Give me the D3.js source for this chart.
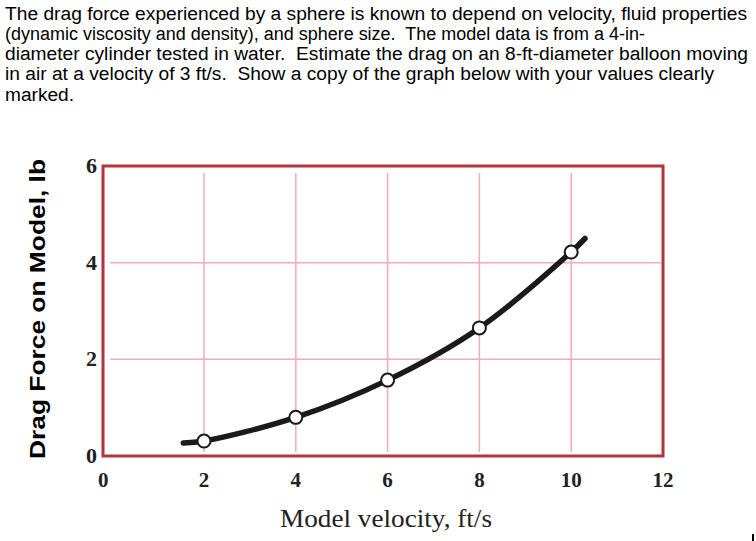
<!DOCTYPE html>
<html lang="en">
<head>
<meta charset="utf-8">
<title>Drag force on model</title>
<script src="https://cdn.jsdelivr.net/npm/d3@7"></script>
<style>
  body { margin: 0; background: #fff; }
  .prompt { white-space: pre; }
</style>
</head>
<body>
<svg width="756" height="541"></svg>
<script>
// problem statement lines, with the width each one fills in the picture
var promptLines = [
  "The drag force experienced by a sphere is known to depend on velocity, fluid properties",
  "(dynamic viscosity and density), and sphere size.  The model data is from a 4-in-",
  "diameter cylinder tested in water.  Estimate the drag on an 8-ft-diameter balloon moving",
  "in air at a velocity of 3 ft/s.  Show a copy of the graph below with your values clearly",
  "marked."
];
var promptWidths = [742, 640, 743, 709, 69];

// measured points (velocity ft/s, drag lb)
var velocity = [2, 4, 6, 8, 10];
var drag = [0.31, 0.8, 1.57, 2.65, 4.22];

// hand-drawn fit curve through the points
var curveX = [1.55, 2, 4, 6, 8, 10, 10.3];
var curveY = [0.27, 0.31, 0.8, 1.57, 2.65, 4.22, 4.5];

var xTicks = [0, 2, 4, 6, 8, 10, 12];
var yTicks = [0, 2, 4, 6];
var xGrid = [2, 4, 6, 8, 10];
var yGrid = [2, 4];

var svg = d3.select("svg");

svg.append("g").selectAll("text")
  .data(promptLines)
  .enter().append("text")
  .attr("class", "prompt")
  .attr("x", 5)
  .attr("y", function(d, i) { return 19.5 + i * 20.3; })
  .attr("font-family", "Liberation Sans, Arial, sans-serif")
  .attr("font-size", "18px")
  .attr("fill", "#000")
  .attr("textLength", function(d, i) { return promptWidths[i]; })
  .attr("lengthAdjust", "spacingAndGlyphs")
  .text(function(d) { return d; });

var x = d3.scaleLinear().domain([-0.2, 12]).range([103, 663]),
    y = d3.scaleLinear().domain([0, 6]).range([456, 166]);

var pink = "#f8aab3", frameRed = "#b3343b";

// grid
svg.append("g").selectAll("line")
  .data(xGrid)
  .enter().append("line")
  .attr("x1", function(d) { return x(d); })
  .attr("x2", function(d) { return x(d); })
  .attr("y1", y(6) + 7)
  .attr("y2", y(0) - 4)
  .attr("stroke", pink)
  .attr("stroke-width", 1.5);

svg.append("g").selectAll("line")
  .data(yGrid)
  .enter().append("line")
  .attr("x1", x(0) - 2)
  .attr("x2", x(12) - 2)
  .attr("y1", function(d) { return y(d); })
  .attr("y2", function(d) { return y(d); })
  .attr("stroke", pink)
  .attr("stroke-width", 1.5);

// frame
svg.append("rect")
  .attr("x", x(-0.2))
  .attr("y", y(6))
  .attr("width", x(12) - x(-0.2))
  .attr("height", y(0) - y(6))
  .attr("fill", "none")
  .attr("stroke", frameRed)
  .attr("stroke-width", 3);

// tick labels
svg.append("g").selectAll("text")
  .data(xTicks)
  .enter().append("text")
  .attr("x", function(d) { return d === 0 ? x(d) - 9 : x(d); })
  .attr("y", 487)
  .attr("text-anchor", "middle")
  .attr("font-family", "Liberation Serif, Times New Roman, serif")
  .attr("font-weight", "bold")
  .attr("font-size", "21px")
  .attr("fill", "#222")
  .text(function(d) { return d; });

svg.append("g").selectAll("text")
  .data(yTicks)
  .enter().append("text")
  .attr("x", 97)
  .attr("y", function(d) { return y(d) + 7; })
  .attr("text-anchor", "end")
  .attr("font-family", "Liberation Serif, Times New Roman, serif")
  .attr("font-weight", "bold")
  .attr("font-size", "22px")
  .attr("fill", "#222")
  .text(function(d) { return d; });

// axis titles
svg.append("text")
  .attr("x", 386)
  .attr("y", 527)
  .attr("text-anchor", "middle")
  .attr("font-family", "Liberation Serif, Times New Roman, serif")
  .attr("font-size", "26px")
  .attr("fill", "#222")
  .attr("textLength", 212)
  .attr("lengthAdjust", "spacingAndGlyphs")
  .text("Model velocity, ft/s");

svg.append("text")
  .attr("transform", "translate(45,309) rotate(-90)")
  .attr("text-anchor", "middle")
  .attr("font-family", "Liberation Sans, Arial, sans-serif")
  .attr("font-weight", "bold")
  .attr("font-size", "22px")
  .attr("fill", "#000")
  .attr("textLength", 300)
  .attr("lengthAdjust", "spacingAndGlyphs")
  .text("Drag Force on Model, lb");

// fit curve
var line = d3.line()
  .x(function(d) { return x(d[0]); })
  .y(function(d) { return y(d[1]); })
  .curve(d3.curveCatmullRom);

svg.append("path")
  .datum(d3.zip(curveX, curveY))
  .attr("d", line)
  .attr("fill", "none")
  .attr("stroke", "#1a1a1a")
  .attr("stroke-width", 5.5)
  .attr("stroke-linecap", "round");

// data points
svg.append("g").selectAll("circle")
  .data(d3.zip(velocity, drag))
  .enter().append("circle")
  .attr("cx", function(d) { return x(d[0]); })
  .attr("cy", function(d) { return y(d[1]); })
  .attr("r", 6.5)
  .attr("fill", "#fff")
  .attr("stroke", "#1a1a1a")
  .attr("stroke-width", 2);

// scan artifact at lower right
svg.append("line")
  .attr("x1", 753).attr("x2", 753)
  .attr("y1", 534).attr("y2", 541)
  .attr("stroke", "#000")
  .attr("stroke-width", 2);
</script>
</body>
</html>
